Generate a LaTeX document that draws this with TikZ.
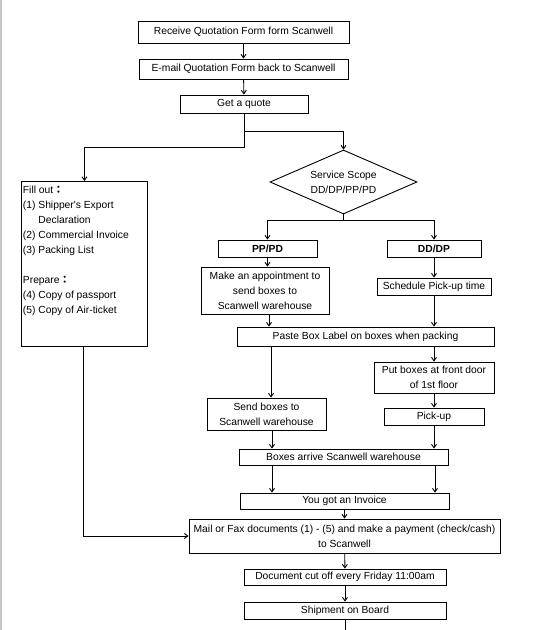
\documentclass[tikz,border=0pt]{standalone}
\usepackage{fontspec}
\setmainfont{Liberation Sans}[Ligatures=TeXOff]
\newfontfamily\cjk{Noto Sans CJK TC}
\usetikzlibrary{arrows.meta,shapes.geometric,calc}
\newcommand\fs{\fontsize{10.3}{15}\selectfont}
\tikzset{
  box/.style={draw, line width=0.9pt, inner sep=0pt, align=center, font=\fs},
  bx/.style 2 args={box, minimum width=#1, minimum height=#2},
  arr/.style={line width=0.9pt, -{Straight Barb[length=3.5pt,width=5pt]}},
  ln/.style={line width=0.9pt},
}
\begin{document}
\begin{tikzpicture}[x=1pt,y=-1pt]
\useasboundingbox (0,0) rectangle (549,630);
\fill[white] (0,0) rectangle (549,630);
\fill[black!22] (0,0) rectangle (2,630);

\node[bx={211pt}{22pt}] (b1) at (243.5,32) {Receive Quotation Form form Scanwell};
\node[bx={209pt}{20pt}] (b2) at (243.5,69) {E-mail Quotation Form back to Scanwell};
\node[bx={128pt}{18pt}] (b3) at (244,104) {Get a quote};
\node[diamond, draw, line width=0.9pt, minimum width=147pt, minimum height=64pt, aspect=2.3, inner sep=0pt, align=center, font=\fs] (dia) at (343.5,182) {Service Scope\\DD/DP/PP/PD};
\node[draw, line width=0.9pt, anchor=north west, inner xsep=1.5pt, inner ysep=0pt, font=\fs] (fill) at (21,181)
  {\parbox[t][165pt][t]{123pt}{\rule{0pt}{12.5pt}Fill out{\cjk\bfseries ：}\\(1) Shipper's Export\\\hspace*{15.5pt}Declaration\\(2) Commercial Invoice\\(3) Packing List\\\mbox{}\\Prepare{\cjk\bfseries ：}\\(4) Copy of passport\\(5) Copy of Air-ticket}};
\node[bx={99pt}{17pt}, font=\fs\bfseries] (pppd) at (267.5,248.5) {PP/PD};
\node[bx={94pt}{17pt}, font=\fs\bfseries] (dddp) at (434,248.5) {DD/DP};
\node[bx={128pt}{47pt}] (make) at (265,290.5) {Make an appointment to\\send boxes to\\Scanwell warehouse};
\node[bx={114pt}{17pt}] (sched) at (434,286.5) {Schedule Pick-up time};
\node[bx={257pt}{19pt}] (paste) at (365.5,336.5) {Paste Box Label on boxes when packing};
\node[bx={120pt}{31pt}] (put) at (434,377.5) {Put boxes at front door\\of 1st floor};
\node[bx={100pt}{17pt}] (pick) at (434,416.5) {Pick-up};
\node[bx={119pt}{32pt}] (send) at (266.5,414) {Send boxes to\\Scanwell warehouse};
\node[bx={209pt}{16pt}] (arrive) at (343.5,457) {Boxes arrive Scanwell warehouse};
\node[bx={209pt}{16pt}] (inv) at (344.5,501) {You got an Invoice};
\node[bx={311pt}{34pt}] (mail) at (344.5,536) {Mail or Fax documents (1) - (5) and make a payment (check/cash)\\to Scanwell};
\node[bx={202pt}{16pt}] (cut) at (345,577) {Document cut off every Friday 11:00am};
\node[bx={202pt}{17pt}] (ship) at (345,610.5) {Shipment on Board};
\coordinate (end) at (345,632);

\draw[arr] (b1) -- (b2);
\draw[arr] (b2) -- (b3);
\draw[arr] (b3.south) -- ++(0,34) -| (fill.north);
\draw[arr] (b3.south) -- ++(0,18) -| (dia.north);
\draw[arr] (dia.south) -- ++(0,6) -| (pppd.north);
\draw[arr] (dia.south) -- ++(0,6) -| (dddp.north);
\draw[arr] (pppd.south) -- (pppd.south |- make.north);
\draw[arr] (dddp) -- (sched);
\draw[arr] ([xshift=4pt]make.south) -- ([xshift=4pt]make.south |- paste.north);
\draw[arr] (sched.south) -- (sched.south |- paste.north);
\draw[arr] ([xshift=4.5pt]send.north |- paste.south) -- ([xshift=4.5pt]send.north);
\draw[arr] (paste.south -| put.north) -- (put.north);
\draw[arr] (put) -- (pick);
\draw[arr] ([xshift=5.5pt]send.south) -- ([xshift=5.5pt]send.south |- arrive.north);
\draw[arr] (pick.south) -- (pick.south |- arrive.north);
\draw[arr] ([xshift=-71.5pt]arrive.south) -- ([xshift=-71.5pt]arrive.south |- inv.north);
\draw[arr] ([xshift=91.5pt]arrive.south) -- ([xshift=91.5pt]arrive.south |- inv.north);
\draw[arr] (inv) -- (mail);
\draw[arr] ([xshift=-1pt]fill.south) |- (mail.west);
\draw[arr] (mail) -- (cut);
\draw[arr] (cut) -- (ship);
\draw[ln] (ship.south) -- (end);
\end{tikzpicture}
\end{document}
